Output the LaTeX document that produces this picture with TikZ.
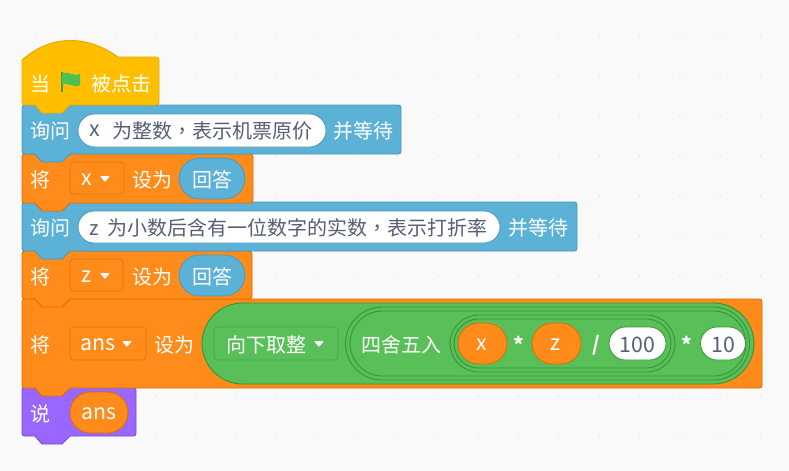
\documentclass[tikz,border=0pt]{standalone}
\usepackage{fontspec}
\setmainfont{Noto Sans CJK SC}
\newfontfamily\tcfont{Noto Sans CJK TC}
\definecolor{bg}{HTML}{F9F9F9}
\definecolor{dotc}{HTML}{DDDDDD}
\definecolor{ylw}{HTML}{FFBF00}\definecolor{ylwd}{HTML}{E6AC00}
\definecolor{blu}{HTML}{5CB1D6}\definecolor{bluo}{HTML}{4D97B8}
\definecolor{org}{HTML}{FF8C1A}\definecolor{orgd}{HTML}{DB6E00}
\definecolor{grn}{HTML}{59C059}\definecolor{grnd}{HTML}{389438}
\definecolor{pur}{HTML}{9966FF}\definecolor{purd}{HTML}{774DCB}
\definecolor{txtd}{HTML}{575E75}
\definecolor{flagf}{HTML}{4CBF56}\definecolor{flagp}{HTML}{45993D}
\tikzset{x=0.75pt,y=-0.75pt,
 lbl/.style={text=white,font=\fontsize{15}{17}\selectfont,inner sep=0pt,anchor=center,yshift=-.6pt},
 dark/.style={text=txtd,font=\fontsize{15}{17}\selectfont,inner sep=0pt,anchor=center,yshift=-.6pt},
 latin/.style={font=\fontsize{16}{18}\selectfont},
 sym/.style={font=\fontsize{15}{17}\selectfont\bfseries},
 pillw/.style={fill=white,draw=bluo,line width=.6pt},
 blockline/.style={line width=.7pt,line join=round}}
% \blk{x1}{y1}{x2}{y2}{fill}{draw}
\newcommand{\blk}[6]{%
 \draw[blockline,fill=#5,draw=#6] (#1,#2+3) .. controls (#1,#2+1) and (#1+1,#2) .. (#1+3,#2)
  -- (#1+13,#2) -- (#1+20,#2+6) -- (#1+40,#2+6) -- (#1+48,#2) -- (#3-3,#2)
  .. controls (#3-1,#2) and (#3,#2+1) .. (#3,#2+3) -- (#3,#4-3)
  .. controls (#3,#4-1) and (#3-1,#4) .. (#3-3,#4) -- (#1+48,#4) -- (#1+40,#4+8) -- (#1+20,#4+8) -- (#1+13,#4) -- (#1+3,#4)
  .. controls (#1+1,#4) and (#1,#4-1) .. (#1,#4-3) -- cycle;}
% \pill{name}{x1}{y1}{x2}{y2}{style}
\newcommand{\pill}[6]{%
 \pgfmathsetmacro{\rr}{(#5-#3)/2}%
 \draw[#6] (#2+\rr,#3) -- (#4-\rr,#3) .. controls (#4-\rr*.45,#3) and (#4,#3+\rr*.45) .. (#4,#3+\rr)
  .. controls (#4,#5-\rr*.45) and (#4-\rr*.45,#5) .. (#4-\rr,#5) -- (#2+\rr,#5)
  .. controls (#2+\rr*.45,#5) and (#2,#5-\rr*.45) .. (#2,#3+\rr)
  .. controls (#2,#3+\rr*.45) and (#2+\rr*.45,#3) .. (#2+\rr,#3) -- cycle;}
\newcommand{\drop}[5]{%
 \draw[rounded corners=2.5pt,fill=#5,draw=#5!85!black,line width=.6pt] (#1,#2) rectangle (#3,#4);}
\newcommand{\tri}[2]{%
 \fill[white,rounded corners=.6pt] (#1-5,#2-3) -- (#1+5,#2-3) -- (#1,#2+3) -- cycle;}
\begin{document}
\begin{tikzpicture}
\useasboundingbox (0,0) rectangle (789,471);
\fill[bg] (0,0) rectangle (789,471);
\foreach \i in {0,...,18} \foreach \j in {0,...,10}
  \fill[dotc] (35+40.3*\i,35+40.2*\j) circle (.75);
% say block (lowest)
\blk{22}{387}{136}{436}{pur}{purd}
% set ans
\blk{22}{299}{762}{388}{org}{orgd}
% set z
\blk{22}{251}{252}{299}{org}{orgd}
% ask z
\blk{22}{202}{577}{251}{blu}{bluo}
% set x
\blk{22}{154}{253}{203}{org}{orgd}
% ask x
\blk{22}{105}{401}{154}{blu}{bluo}
% hat
\draw[blockline,fill=ylw,draw=ylwd] (22,60) .. controls (38,46) and (54,40.5) .. (71,40.5)
  .. controls (88,40.5) and (104,47) .. (118,57) -- (156,57) .. controls (158,57) and (159,58) .. (159,60)
  -- (159,102) .. controls (159,104) and (158,105) .. (156,105) -- (70,105) -- (62,113) -- (42,113) -- (35,105) -- (25,105)
  .. controls (23,105) and (22,104) .. (22,102) -- cycle;
\node[lbl] (t1) at (40,83) {当};
\draw[line width=1.3pt,draw=flagp] (62,72) -- (62,92);
\fill[flagf] (62,73.5) .. controls (68,70) and (74,78) .. (80,73.5) -- (80,85) .. controls (74,89) and (68,81) .. (62,85) -- cycle;
\node[lbl] (t2) at (121,83) {被点击};
% ask x content
\node[lbl] (t3) at (50,130) {询问};
\pill{p1}{78}{114}{326}{147}{pillw}
\node[dark,latin] (t4) at (95,130) {x};
\node[dark] (t5) at (212,130) {为整数{\tcfont ，}表示机票原价};
\node[lbl] (t6) at (363,130) {并等待};
% set x
\node[lbl] (t7) at (41,179) {将};
\drop{70}{162}{124}{194}{org}
\node[lbl,latin] (t8) at (87,179) {x};
\tri{105}{179}
\node[lbl] (t9) at (152,179) {设为};
\pill{p2}{179}{158}{245}{199}{fill=blu,draw=bluo,line width=.6pt}
\node[lbl] (t10) at (212,179) {回答};
% ask z
\node[lbl] (t11) at (50,227) {询问};
\pill{p3}{78}{211}{500}{243}{pillw}
\node[dark] (t12) at (288.5,227) {z\hspace{.25em} 为小数后含有一位数字的实数{\tcfont ，}表示打折率};
\node[lbl] (t13) at (538,227) {并等待};
% set z
\node[lbl] (t14) at (41,276) {将};
\drop{70}{259}{123}{291}{org}
\node[lbl,latin] (t15) at (87,276) {z};
\tri{105}{276}
\node[lbl] (t16) at (152,276) {设为};
\pill{p4}{179}{255}{245}{296}{fill=blu,draw=bluo,line width=.6pt}
\node[lbl] (t17) at (212,276) {回答};
% set ans
\node[lbl] (t18) at (41,344) {将};
\drop{70}{327}{146}{360}{org}
\node[lbl,latin] (t19) at (98,344) {ans};
\tri{127}{344}
\node[lbl] (t20) at (174,344) {设为};
\pill{p5}{202}{303}{754}{384}{fill=grn,draw=grnd,line width=.7pt}
\drop{214}{327}{338}{360}{grn}
\node[lbl] (t21) at (266,344) {向下取整};
\tri{319}{344}
\pill{p6}{345.5}{307}{749.5}{380}{fill=grn,draw=grnd,line width=.7pt}
\pill{p7}{350}{311}{746}{376}{fill=grn,draw=grnd,line width=.7pt}
\node[lbl] (t22) at (401.5,344) {四舍五入};
\pill{p8}{450}{315}{675}{372}{fill=grn,draw=grnd,line width=.7pt}
\pill{p9}{454}{319}{671}{368}{fill=grn,draw=grnd,line width=.7pt}
\pill{p10}{458}{323}{507}{364}{fill=org,draw=orgd,line width=.6pt}
\node[lbl,latin] (t23) at (482,344) {x};
\node[lbl,sym] (t24) at (519,344) {*};
\pill{p11}{532}{323}{581}{364}{fill=org,draw=orgd,line width=.6pt}
\node[lbl,latin] (t25) at (556,344) {z};
\node[lbl,sym] (t26) at (596.5,344) {/};
\pill{p12}{609}{327}{666}{360}{fill=white,draw=grnd,line width=.6pt}
\node[dark,latin] (t27) at (637.5,344) {100};
\node[lbl,sym] (t28) at (687,344) {*};
\pill{p13}{700.5}{327}{745.5}{360}{fill=white,draw=grnd,line width=.6pt}
\node[dark,latin] (t29) at (723,344) {10};
% say
\node[lbl] (t30) at (40,413) {说};
\pill{p14}{70}{392}{128}{433}{fill=org,draw=orgd,line width=.6pt}
\node[lbl,latin] (t31) at (99,413) {ans};
\end{tikzpicture}
\end{document}
